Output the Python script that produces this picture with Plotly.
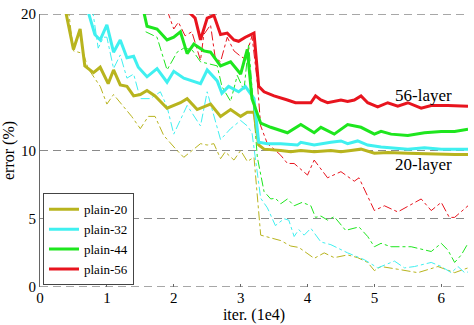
import plotly.graph_objects as go

# ---- data (x in units of 1e4 iterations, y = error %) ----
p20_test_x = [0.35, 0.5, 0.6, 0.67, 0.8, 0.9, 1.02, 1.1, 1.2, 1.3, 1.4, 1.5, 1.6, 1.72, 1.9, 2.1, 2.2, 2.35, 2.55, 2.7, 2.85, 3.0, 3.1, 3.2, 3.27, 3.35, 3.6, 3.75, 3.9, 4.1, 4.35, 4.5, 4.65, 4.8, 5.0, 5.2, 5.5, 5.8, 6.0, 6.2, 6.4]
p20_test_y = [21.0, 17.4, 18.9, 16.2, 15.7, 16.1, 14.9, 15.9, 14.8, 14.7, 14.0, 14.1, 14.4, 14.0, 13.1, 13.5, 13.8, 13.0, 13.4, 12.5, 13.0, 12.5, 12.8, 12.8, 10.4, 10.1, 10.0, 9.9, 10.0, 9.9, 10.0, 9.9, 10.0, 10.1, 9.8, 9.85, 9.8, 9.75, 9.7, 9.7, 9.7]

p20_train_x = [0.42, 0.5, 0.65, 0.72, 0.9, 1.0, 1.1, 1.22, 1.37, 1.5, 1.62, 1.72, 1.85, 2.05, 2.15, 2.25, 2.4, 2.5, 2.6, 2.7, 2.77, 2.9, 3.0, 3.1, 3.2, 3.3, 3.45, 3.6, 3.75, 3.87, 4.1, 4.25, 4.4, 4.6, 4.75, 4.9, 5.0, 5.1, 5.35, 5.65, 5.95, 6.2, 6.4]
p20_train_y = [20.5, 17.3, 17.1, 16.0, 14.7, 13.4, 14.1, 13.4, 12.5, 11.6, 12.5, 12.5, 11.1, 10.0, 9.5, 9.9, 10.5, 10.4, 10.5, 9.4, 9.9, 9.3, 10.0, 9.2, 9.5, 3.8, 3.6, 3.4, 3.0, 2.9, 2.1, 2.5, 2.15, 2.35, 2.15, 1.8, 1.2, 1.5, 1.3, 1.05, 1.5, 1.05, 1.4]

p32_test_x = [0.7, 0.82, 0.9, 1.0, 1.1, 1.2, 1.3, 1.4, 1.47, 1.6, 1.75, 1.9, 2.0, 2.15, 2.4, 2.5, 2.65, 2.72, 2.82, 2.97, 3.07, 3.14, 3.2, 3.27, 3.4, 3.6, 3.85, 3.9, 4.1, 4.35, 4.5, 4.6, 4.75, 4.9, 5.1, 5.5, 5.75, 6.0, 6.4]
p32_test_y = [20.5, 18.5, 18.1, 19.2, 17.2, 18.1, 16.8, 16.9, 16.1, 15.4, 16.0, 15.0, 15.8, 15.3, 14.9, 15.9, 15.1, 14.2, 14.7, 14.3, 14.7, 14.2, 13.8, 10.6, 10.5, 10.5, 10.4, 10.6, 10.4, 10.6, 10.7, 10.5, 10.7, 10.4, 10.25, 10.1, 10.2, 10.1, 10.1]

p32_train_x = [0.78, 0.87, 0.95, 1.0, 1.1, 1.2, 1.3, 1.4, 1.5, 1.65, 1.8, 1.9, 2.0, 2.2, 2.4, 2.5, 2.7, 2.85, 3.0, 3.1, 3.17, 3.3, 3.4, 3.52, 3.65, 3.72, 3.8, 3.87, 3.95, 4.05, 4.2, 4.35, 4.6, 4.85, 5.05, 5.3, 5.45, 5.6, 5.85, 6.0, 6.15, 6.25, 6.35, 6.4]
p32_train_y = [20.5, 17.5, 18.3, 18.3, 16.0, 17.0, 15.3, 15.6, 13.8, 13.8, 14.3, 13.2, 11.2, 13.3, 11.8, 14.3, 10.8, 11.6, 12.2, 11.8, 11.3, 6.5, 5.8, 4.5, 5.0, 4.9, 3.7, 4.2, 3.8, 4.3, 3.3, 3.1, 2.5, 2.0, 1.4, 1.9, 1.4, 1.5, 1.8, 1.5, 1.05, 1.5, 1.05, 1.1]

p44_test_x = [1.55, 1.6, 1.75, 1.9, 2.0, 2.1, 2.2, 2.3, 2.45, 2.55, 2.7, 2.85, 3.0, 3.1, 3.17, 3.3, 3.45, 3.7, 3.9, 4.1, 4.2, 4.4, 4.6, 4.8, 5.0, 5.1, 5.25, 5.5, 5.75, 6.0, 6.2, 6.4]
p44_test_y = [20.2, 19.1, 18.9, 18.1, 18.3, 18.7, 17.1, 17.8, 17.3, 17.2, 16.2, 16.5, 15.6, 17.4, 13.8, 12.0, 11.7, 11.3, 11.9, 11.3, 11.7, 11.2, 11.9, 11.7, 11.2, 11.4, 11.2, 11.1, 11.3, 11.4, 11.4, 11.55]

p44_train_x = [1.58, 1.75, 1.9, 2.05, 2.15, 2.27, 2.4, 2.55, 2.65, 2.72, 2.85, 2.95, 3.05, 3.12, 3.25, 3.35, 3.45, 3.52, 3.6, 3.7, 3.8, 3.92, 4.05, 4.12, 4.2, 4.3, 4.4, 4.57, 4.77, 4.9, 5.0, 5.1, 5.25, 5.55, 5.85, 6.0, 6.1, 6.2, 6.3, 6.4]
p44_train_y = [18.7, 18.3, 15.9, 17.2, 17.5, 17.4, 16.5, 16.3, 16.2, 14.7, 13.6, 15.5, 14.4, 17.8, 9.5, 7.0, 6.45, 6.5, 6.1, 6.45, 5.95, 6.2, 5.95, 5.1, 5.2, 4.9, 5.15, 4.15, 4.4, 3.7, 2.95, 3.2, 2.95, 2.95, 2.6, 3.2, 2.7, 1.8, 2.35, 3.2]

p56_test_x = [2.15, 2.32, 2.4, 2.5, 2.6, 2.7, 2.8, 2.9, 2.97, 3.07, 3.2, 3.27, 3.35, 3.5, 3.7, 3.82, 3.92, 4.05, 4.12, 4.2, 4.3, 4.5, 4.6, 4.7, 4.8, 4.9, 5.05, 5.2, 5.35, 5.5, 5.7, 5.85, 6.1, 6.4]
p56_test_y = [20.5, 19.7, 18.1, 19.7, 19.9, 18.5, 18.6, 18.1, 18.0, 18.3, 18.6, 14.7, 14.3, 14.0, 13.7, 13.5, 13.5, 13.5, 14.0, 13.7, 13.5, 13.7, 13.6, 13.7, 14.0, 13.5, 13.2, 13.5, 13.25, 13.5, 13.1, 13.3, 13.3, 13.25]

p56_train_x = [1.9, 2.0, 2.07, 2.17, 2.27, 2.35, 2.4, 2.45, 2.55, 2.62, 2.7, 2.8, 2.9, 3.0, 3.07, 3.17, 3.25, 3.3, 3.4, 3.5, 3.6, 3.7, 3.8, 4.0, 4.1, 4.3, 4.5, 4.7, 4.77, 5.0, 5.15, 5.35, 5.7, 5.85, 6.0, 6.12, 6.2, 6.4]
p56_train_y = [20.3, 18.9, 19.4, 18.4, 18.7, 17.5, 16.6, 18.5, 19.2, 16.8, 16.5, 18.3, 17.3, 16.9, 16.7, 18.4, 15.0, 11.8, 10.5, 10.1, 9.65, 9.05, 9.05, 8.2, 9.3, 8.0, 8.45, 7.75, 8.0, 5.6, 5.95, 5.5, 6.45, 5.6, 6.2, 5.1, 5.1, 5.95]

series_names = ["plain-20", "plain-32", "plain-44", "plain-56"]
series_colors = ["#B8B41E", "#40F0F0", "#1EE61E", "#E8141E"]
tests = [(p20_test_x, p20_test_y), (p32_test_x, p32_test_y), (p44_test_x, p44_test_y), (p56_test_x, p56_test_y)]
trains = [(p20_train_x, p20_train_y), (p32_train_x, p32_train_y), (p44_train_x, p44_train_y), (p56_train_x, p56_train_y)]

x_ticks = [0, 1, 2, 3, 4, 5, 6]
y_ticks = [0, 5, 10, 20]
edge_lines = [0, 20]

FONT = "Times New Roman"

fig = go.Figure()

for yv in edge_lines:
    fig.add_shape(type="line", xref="paper", x0=0, x1=1, yref="y", y0=yv, y1=yv,
                  line=dict(color="#8a8a8a", width=1.3, dash="8px,5px"), layer="below")

for (tx, ty), col in zip(trains, series_colors):
    fig.add_trace(go.Scatter(x=tx, y=ty, mode="lines", showlegend=False,
                             line=dict(color=col, width=1, dash="dashdot"),
                             hoverinfo="skip"))

for (sx, sy), col, name in zip(tests, series_colors, series_names):
    fig.add_trace(go.Scatter(x=sx, y=sy, mode="lines", name=name,
                             line=dict(color=col, width=3)))

fig.add_annotation(x=5.74, y=14.0, text="56-layer", showarrow=False,
                   font=dict(family=FONT, size=17, color="black"))
fig.add_annotation(x=5.74, y=8.95, text="20-layer", showarrow=False,
                   font=dict(family=FONT, size=17, color="black"))

fig.update_layout(
    width=474, height=325,
    margin=dict(l=40, r=6, t=9, b=37),
    paper_bgcolor="white", plot_bgcolor="white",
    font=dict(family=FONT, size=15, color="black"),
    showlegend=True,
    legend=dict(x=0.007, y=0.006, xanchor="left", yanchor="bottom",
                bgcolor="white", bordercolor="#444", borderwidth=1,
                font=dict(family=FONT, size=13, color="black"),
                tracegroupgap=0, itemwidth=30),
    xaxis=dict(range=[0, 6.4], tickvals=x_ticks, ticktext=[str(v) for v in x_ticks],
               showgrid=False, zeroline=False, showline=False,
               ticks="inside", ticklen=3, tickcolor="#666",
               title=dict(text="iter. (1e4)", font=dict(family=FONT, size=16), standoff=2),
               tickfont=dict(family=FONT, size=15)),
    yaxis=dict(range=[0, 20], tickvals=y_ticks, ticktext=[str(v) for v in y_ticks],
               showgrid=True, gridcolor="#8a8a8a", griddash="8px,5px", gridwidth=1.3,
               zeroline=False, showline=True, linecolor="#666", linewidth=1,
               ticks="", title=dict(text="error (%)", font=dict(family=FONT, size=16), standoff=4),
               tickfont=dict(family=FONT, size=15)),
)

fig.write_html("out.html")
